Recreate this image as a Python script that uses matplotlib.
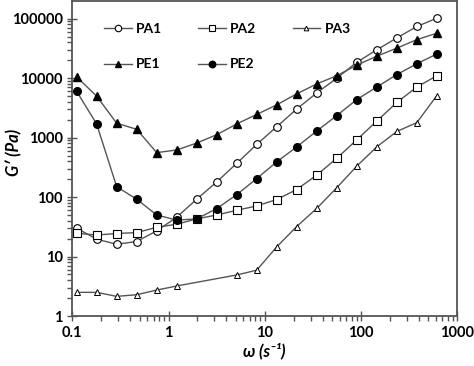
import matplotlib
matplotlib.use("Agg")
import matplotlib.pyplot as plt
import numpy as np

plt.rcParams['font.family'] = ['Lato', 'DejaVu Sans']

# angular frequency (rad/s) - same sweep for all samples
omega = [0.111, 0.179, 0.289, 0.467, 0.754, 1.22, 1.96, 3.17, 5.12, 8.26,
         13.3, 21.5, 34.7, 56.1, 90.5, 146, 236, 381, 615]
# PA3 has two points missing (1.96 and 3.17)
omega_pa3 = [0.111, 0.179, 0.289, 0.467, 0.754, 1.22, 5.12, 8.26,
             13.3, 21.5, 34.7, 56.1, 90.5, 146, 236, 381, 615]

# storage modulus G' (Pa)
pa1 = [30, 19.6, 16.1, 17.9, 27, 46, 92, 180, 370, 770, 1520, 3030, 5640,
       10000, 18500, 30000, 47500, 74000, 102000]
pa2 = [24.7, 23, 24.4, 25.3, 31, 35, 43, 50, 60, 71, 91, 134, 234, 450,
       920, 1900, 3900, 7100, 11000]
pa3 = [2.5, 2.5, 2.14, 2.28, 2.73, 3.2, 4.9, 5.9, 14.5, 32, 64.5, 144, 332,
       700, 1270, 1790, 5100]
pe1 = [10500, 5000, 1750, 1380, 560, 620, 810, 1120, 1700, 2460, 3550, 5450,
       8000, 11000, 16600, 23400, 32000, 44500, 57000]
pe2 = [6000, 1700, 150, 92, 50, 41, 43, 64, 110, 205, 390, 700, 1290, 2350,
       4370, 7100, 11500, 17500, 25500]

fig = plt.figure(figsize=(4.74, 3.66), dpi=100)
ax = fig.add_axes([0.1525, 0.1366, 0.812, 0.861])

lc = "#555555"
ax.plot(omega, pa1, color=lc, lw=1.0, marker="o", ms=5.5, mfc="white", mec="black", mew=0.8, label="PA1")
ax.plot(omega, pe1, color=lc, lw=1.0, marker="^", ms=5.8, mfc="black", mec="black", label="PE1")
ax.plot(omega, pa2, color=lc, lw=1.0, marker="s", ms=5.3, mfc="white", mec="black", mew=0.8, label="PA2")
ax.plot(omega, pe2, color=lc, lw=1.0, marker="o", ms=5.5, mfc="black", mec="black", label="PE2")
ax.plot(omega_pa3, pa3, color=lc, lw=1.0, marker="^", ms=4.0, mfc="white", mec="black", mew=0.7, label="PA3")

ax.set_xscale("log")
ax.set_yscale("log")
ax.set_xlim(0.1, 1000)
ax.set_ylim(1, 10 ** 5.3)

ax.set_xticks([0.1, 1, 10, 100, 1000])
ax.set_xticklabels(["0.1", "1", "10", "100", "1000"])
ax.set_yticks([1, 10, 100, 1000, 10000, 100000])
ax.set_yticklabels(["1", "10", "100", "1000", "10000", "100000"])

ax.tick_params(which="major", direction="inout", length=7, width=1, color=lc,
               labelsize=10.5, top=False, right=False)
ax.tick_params(which="minor", direction="out", length=3.5, width=1, color=lc,
               top=False, right=False)
for lab in ax.get_xticklabels() + ax.get_yticklabels():
    lab.set_fontweight("bold")
for s in ax.spines.values():
    s.set_color(lc)
    s.set_linewidth(1.3)

ax.set_xlabel("ω (s⁻¹)", fontsize=12, fontweight="bold", style="italic")
ax.xaxis.set_label_coords(0.5, -0.085)
ax.set_ylabel("G′ (Pa)", fontsize=12, fontweight="bold", style="italic")
ax.yaxis.set_label_coords(-0.13, 0.52)

leg = ax.legend(ncol=3, loc="upper left", bbox_to_anchor=(0.05, 0.97), frameon=False,
                handlelength=2.0, handletextpad=0.3, columnspacing=2.6,
                labelspacing=1.7, prop={"weight": "bold", "size": 10}, markerscale=0.85)

fig.savefig("out.png", dpi=100)
